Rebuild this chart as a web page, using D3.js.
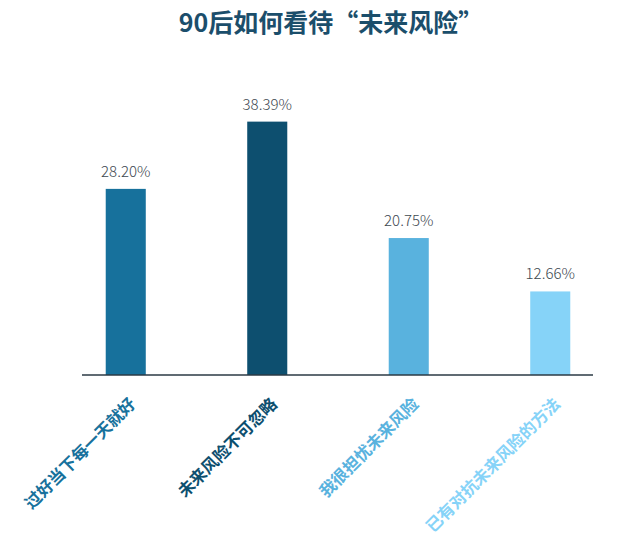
<!DOCTYPE html>
<html>
<head>
<meta charset="utf-8">
<script src="https://cdn.jsdelivr.net/npm/d3@7"></script>
<style>
  body { margin: 0; background: #fff; }
</style>
</head>
<body>
<script>
// 데이터
var categories = ['过好当下每一天就好', '未来风险不可忽略', '我很担忧未来风险', '已有对抗未来风险的方法'];
var values = [28.20, 38.39, 20.75, 12.66];
var colors = ['#17719c', '#0d4f6f', '#59b2de', '#86d3f8'];

var W = 629, H = 536;
var baseY = 375;

var svg = d3.select(document.body)
  .append('svg')
  .attr('width', W)
  .attr('height', H);

// 제목
svg.append('text')
  .attr('x', 331)
  .attr('y', 32)
  .attr('text-anchor', 'middle')
  .style('font-family', '"Noto Sans CJK SC", "Noto Sans", sans-serif')
  .style('font-size', '25px')
  .style('font-weight', 'bold')
  .style('fill', '#1b4e6b')
  .text('90后如何看待“未来风险”');

var x = d3.scaleBand()
  .domain(categories)
  .range([55, 621])
  .paddingInner(0.717)
  .paddingOuter(0.3585);

var y = d3.scaleLinear()
  .domain([0, 40])
  .range([baseY, 111]);

// 막대
svg.selectAll('rect.bar')
  .data(values)
  .enter()
  .append('rect')
  .attr('class', 'bar')
  .attr('x', function(d, i){ return x(categories[i]); })
  .attr('width', x.bandwidth())
  .attr('y', function(d){ return y(d); })
  .attr('height', function(d){ return baseY - y(d); })
  .attr('fill', function(d, i){ return colors[i]; });

// 값 라벨
svg.selectAll('text.val')
  .data(values)
  .enter()
  .append('text')
  .attr('class', 'val')
  .attr('x', function(d, i){ return x(categories[i]) + x.bandwidth() / 2; })
  .attr('y', function(d){ return y(d) - 12; })
  .attr('text-anchor', 'middle')
  .style('font-family', '"Noto Sans CJK SC", "Open Sans", sans-serif')
  .style('font-size', '15px')
  .style('font-weight', '300')
  .style('fill', '#3d4850')
  .text(function(d){ return d.toFixed(2) + '%'; });

// 축선
svg.append('line')
  .attr('x1', 82).attr('x2', 593)
  .attr('y1', baseY).attr('y2', baseY)
  .attr('stroke', '#2b3a44')
  .attr('stroke-width', 1.5);

// 카테고리 라벨 (회전)
svg.selectAll('text.cat')
  .data(categories)
  .enter()
  .append('text')
  .attr('class', 'cat')
  .attr('text-anchor', 'end')
  .attr('transform', function(d){
    var cx = x(d) + x.bandwidth() / 2 + 11;
    return 'translate(' + cx + ',' + 405 + ') rotate(-45)';
  })
  .style('font-family', '"Noto Sans CJK SC", sans-serif')
  .style('font-size', '16.5px')
  .style('font-weight', 'bold')
  .style('fill', function(d, i){ return colors[i]; })
  .text(function(d){ return d; });
</script>
</body>
</html>
